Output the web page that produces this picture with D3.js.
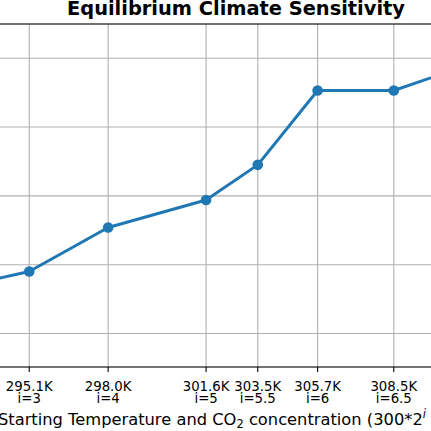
<!DOCTYPE html>
<html>
<head>
<meta charset="utf-8">
<script src="https://cdn.jsdelivr.net/npm/d3@7"></script>
<style>
  body { margin: 0; background: #fff; }
  svg { display: block; font-family: "DejaVu Sans", sans-serif; }
</style>
</head>
<body>
<script>
// exponent i of the CO2 concentration (300*2^i ppm)
const exponents = ["1", "2", "3", "4", "5", "5.5", "6", "6.5", "7", "8"];
// starting temperature (K)
const temps = [289.2, 292.2, 295.1, 298.0, 301.6, 303.5, 305.7, 308.5, 311.6, 316.2];
// equilibrium climate sensitivity
const ecs = [0.74, 1.65, 1.90, 2.54, 2.94, 3.45, 4.53, 4.53, 4.95, 5.27];
const yTicks = [1, 2, 3, 4, 5];

const width = 431;
const height = 431;
// the axes box is wider than the window (picture is a crop)
const plotLeft = -168;
const plotRight = 640;
const plotTop = 24;
const plotBottom = 367;

const points = temps.map((t, k) => ({ t, v: ecs[k], i: exponents[k] }));

function padded(ext) {
  const p = (ext[1] - ext[0]) * 0.05;
  return [ext[0] - p, ext[1] + p];
}

const x = d3.scaleLinear()
  .domain(padded(d3.extent(temps)))
  .range([plotLeft, plotRight]);

const y = d3.scaleLinear()
  .domain(padded(d3.extent(ecs)))
  .range([plotBottom, plotTop]);

const svg = d3.select("body").append("svg")
  .attr("width", width)
  .attr("height", height)
  .attr("viewBox", [0, 0, width, height]);

// grid
svg.append("g")
  .selectAll("line")
  .data(temps)
  .join("line")
  .attr("x1", d => x(d)).attr("x2", d => x(d))
  .attr("y1", plotTop).attr("y2", plotBottom)
  .attr("stroke", "#b0b0b0").attr("stroke-width", 1.1);

svg.append("g")
  .selectAll("line")
  .data(yTicks)
  .join("line")
  .attr("x1", plotLeft).attr("x2", plotRight)
  .attr("y1", d => y(d)).attr("y2", d => y(d))
  .attr("stroke", "#b0b0b0").attr("stroke-width", 1.1);

// line + markers
const line = d3.line().x(d => x(d.t)).y(d => y(d.v));
svg.append("path")
  .datum(points)
  .attr("d", line)
  .attr("fill", "none")
  .attr("stroke", "#1f77b4")
  .attr("stroke-width", 3)
  .attr("stroke-linejoin", "round");

svg.append("g")
  .selectAll("circle")
  .data(points)
  .join("circle")
  .attr("cx", d => x(d.t))
  .attr("cy", d => y(d.v))
  .attr("r", 5.3)
  .attr("fill", "#1f77b4");

// spines
svg.append("rect")
  .attr("x", plotLeft).attr("y", plotTop)
  .attr("width", plotRight - plotLeft).attr("height", plotBottom - plotTop)
  .attr("fill", "none").attr("stroke", "#000").attr("stroke-width", 1.1);

// x ticks with two-line labels
const xt = svg.append("g")
  .selectAll("g")
  .data(points)
  .join("g")
  .attr("transform", d => `translate(${x(d.t)},${plotBottom})`);
xt.append("line").attr("y2", 5).attr("stroke", "#000").attr("stroke-width", 1.1);
const lbl = xt.append("text")
  .attr("text-anchor", "middle")
  .attr("font-size", 13.3)
  .attr("fill", "#000");
lbl.append("tspan").attr("x", 0).attr("y", 23.7).text(d => d.t.toFixed(1) + "K");
lbl.append("tspan").attr("x", 0).attr("y", 36.3).text(d => "i=" + d.i);

// y ticks (off to the left of the crop)
const yt = svg.append("g")
  .selectAll("g")
  .data(yTicks)
  .join("g")
  .attr("transform", d => `translate(${plotLeft},${y(d)})`);
yt.append("line").attr("x2", -5).attr("stroke", "#000");
yt.append("text").attr("x", -8).attr("dy", "0.32em")
  .attr("text-anchor", "end").attr("font-size", 13.3).text(d => d);

// x label
const xl = svg.append("text")
  .attr("x", (plotLeft + plotRight) / 2)
  .attr("y", 424.5)
  .attr("text-anchor", "middle")
  .attr("font-size", 16.3)
  .attr("fill", "#000");
xl.append("tspan").text("Starting Temperature and CO");
xl.append("tspan").attr("font-size", 11.5).attr("dy", 3.5).text("2");
xl.append("tspan").attr("dy", -3.5).text(" concentration (300*2");
xl.append("tspan").attr("font-size", 11.5).attr("font-style", "italic").attr("dy", -7).text("i");
xl.append("tspan").attr("dy", 7).text(" ppm)");

// title
svg.append("text")
  .attr("x", (plotLeft + plotRight) / 2)
  .attr("y", 14.5)
  .attr("text-anchor", "middle")
  .attr("font-size", 19.4)
  .attr("font-weight", "bold")
  .attr("fill", "#000")
  .text("Equilibrium Climate Sensitivity");
</script>
</body>
</html>
